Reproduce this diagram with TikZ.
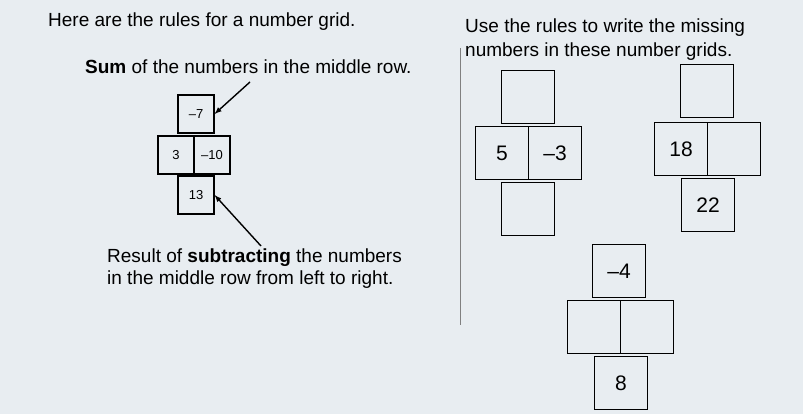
\documentclass[tikz,border=0pt]{standalone}
\usepackage{fontspec}
\setmainfont{Liberation Sans}
\begin{document}
\begin{tikzpicture}[x=1pt,y=-1pt,
  cell/.style={draw=black,line width=1.6pt,minimum width=#1,minimum height=#1,inner sep=0pt,font=\fontsize{21}{23}\selectfont},
  small/.style={draw=black,line width=1.1pt,minimum width=36pt,minimum height=38pt,inner sep=0pt,font=\fontsize{13}{15}\selectfont},
  txt/.style={anchor=west,inner sep=0pt,font=\fontsize{19}{21}\selectfont},
  arr/.style={-latex,line width=1.4pt}]
\fill[fill={rgb,255:red,232;green,237;blue,241}] (0,0) rectangle (803,414);
\useasboundingbox (0,0) rectangle (803,414);
\node[txt] (t1) at (48,22) {Here are the rules for a number grid.};
\node[txt] (t2) at (85,67) {\textbf{Sum} of the numbers in the middle row.};
\node[txt] (t3) at (107,258) {Result of \textbf{subtracting} the numbers};
\node[txt] (t4) at (107,280) {in the middle row from left to right.};
\node[txt] (t5) at (465,28) {Use the rules to write the missing};
\node[txt] (t6) at (465,52) {numbers in these number grids.};
\draw[gray,line width=1pt] (460,48) -- (460,325);
% grid 1
\node[small] (a1) at (196,114) {–7};
\node[small] (a2) at (176,155) {3};
\node[small] (a3) at (212,155) {–10};
\node[small] (a4) at (196,195) {13};
\coordinate (p1) at (250,82);
\coordinate (p2) at (261,246);
\draw[arr] (p1) -- (a1.east);
\draw[arr] (p2) -- (a4.east);
% grid 2
\node[cell=53pt] (b1) at (528,97) {};
\node[cell=53pt] (b2) at (502,153) {5};
\node[cell=53pt] (b3) at (555,153) {–3};
\node[cell=53pt] (b4) at (528,209) {};
% grid 3
\node[cell=53pt] (c1) at (707,91) {};
\node[cell=53pt] (c2) at (681,149) {18};
\node[cell=53pt] (c3) at (734,149) {};
\node[cell=53pt] (c4) at (708,205) {22};
% grid 4
\node[cell=53pt] (d1) at (619,271) {–4};
\node[cell=53pt] (d2) at (594,327) {};
\node[cell=53pt] (d3) at (647,327) {};
\node[cell=53pt] (d4) at (621,383) {8};
\end{tikzpicture}
\end{document}
